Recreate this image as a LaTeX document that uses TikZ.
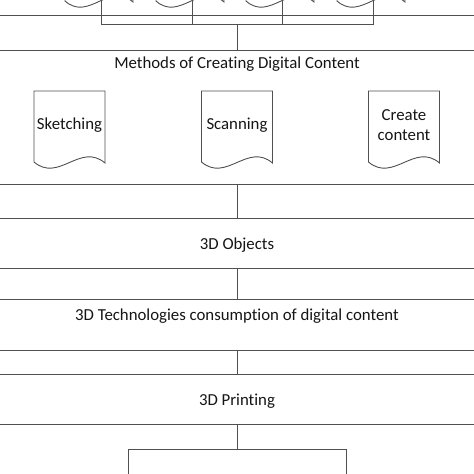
\documentclass[tikz,border=0pt]{standalone}
\usepackage{fontspec}
\setmainfont{Carlito}[Ligatures={NoCommon,NoContextual},RawFeature={-liga;-clig;-dlig}]
\usetikzlibrary{calc}
\definecolor{linegray}{HTML}{505050}
\definecolor{textcol}{HTML}{151515}
\newcommand\docoutline[1]{%
  \draw[conn] ($(#1.south west)+(0,3)$) -- (#1.north west) -- (#1.north east) -- ($(#1.south east)+(0,4)$)
    .. controls ($(#1.south west)!0.65!(#1.south east)+(0,-17)$) and ($(#1.south west)!0.35!(#1.south east)+(0,24)$) .. ($(#1.south west)+(0,3)$) -- cycle;}
\begin{document}
\begin{tikzpicture}[x=1pt,y=-1pt,
  conn/.style={draw=linegray, line width=0.9pt},
  box/.style={draw=linegray, line width=0.9pt, minimum width=540pt, inner sep=0pt, outer sep=0pt},
  docnode/.style={minimum width=71pt, minimum height=68pt, inner sep=0pt, outer sep=0pt, align=center,
    text=textcol, font=\fontsize{16.8}{20}\selectfont},
  lbl/.style={inner sep=0pt, text=textcol, font=\fontsize{16.8}{20}\selectfont}]
\useasboundingbox (0,0) rectangle (474,474);
\clip (0,0) rectangle (474,474);
% top (cropped) box and documents
\node[box, minimum height=55pt] (Z) at (237,-12.5) {};
\foreach \n/\x in {t1/99, t2/190, t3/280, t4/371}{
  \node[docnode, minimum width=68pt, anchor=south] (\n) at (\x,-2) {};
  \docoutline{\n}
}
% main boxes
\node[box, minimum height=134pt] (B) at (237,117) {};
\node[box, minimum height=50pt] (D) at (237,243) {};
\node[box, minimum height=51pt] (F) at (237,324.5) {};
\node[box, minimum height=50pt] (H) at (237,399) {};
\node[box, minimum width=218pt, minimum height=60pt] (K) at (237,479) {};
\node[lbl] (Bt) at (237,64) {Methods of Creating Digital Content};
\node[lbl] (Dt) at (237,245) {3D Objects};
\node[lbl] (Ft) at (237,316) {3D Technologies consumption of digital content};
\node[lbl] (Ht) at (237,401) {3D Printing};
% documents in B
\node[docnode] (d1) at (69.5,125) {Sketching};
\node[docnode] (d2) at (237,125) {Scanning};
\node[docnode] (d3) at (404,125) {Create\\content};
\docoutline{d1}
\docoutline{d2}
\docoutline{d3}
% connectors
\coordinate (j) at (237,24);
\foreach \n in {t1,t2,t3,t4}{
  \draw[conn] ($(\n.south)+(2,3)$) |- (j);
}
\draw[conn] (j) -- (B.north);
\draw[conn] (B.south) -- (D.north);
\draw[conn] (D.south) -- (F.north);
\draw[conn] (F.south) -- (H.north);
\draw[conn] (H.south) -- (K.north);
\end{tikzpicture}
\end{document}
